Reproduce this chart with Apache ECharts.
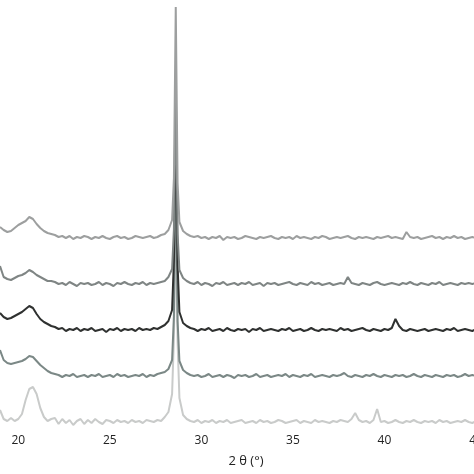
<!DOCTYPE html>
<html><head><meta charset="utf-8">
<script src="https://cdn.jsdelivr.net/npm/echarts@6/dist/echarts.min.js"></script>
<style>html,body{margin:0;padding:0;background:#fff}#c{width:474px;height:474px}</style>
</head><body><div id="c"></div>
<script>
// 2θ positions (degrees)
var twoTheta = [19.0,19.2,19.4,19.6,19.8,20.0,20.2,20.4,20.6,20.8,21.0,21.2,21.4,21.6,21.8,
22.0,22.2,22.4,22.6,22.8,23.0,23.2,23.4,23.6,23.8,24.0,24.2,24.4,24.6,24.8,25.0,25.2,25.4,25.6,25.8,26.0,26.2,26.4,26.6,26.8,27.0,27.2,27.4,27.6,27.8,28.0,28.2,28.4,
28.5,28.6,28.7,
28.8,29.0,29.2,29.4,29.6,29.8,30.0,30.2,30.4,30.6,30.8,31.0,31.2,31.4,31.6,31.8,32.0,32.2,32.4,32.6,32.8,33.0,33.2,33.4,33.6,33.8,34.0,34.2,34.4,34.6,
34.8,35.0,35.2,35.4,35.6,35.8,36.0,36.2,36.4,36.6,36.8,37.0,37.2,37.4,37.6,37.8,38.0,38.2,38.4,38.6,38.8,39.0,39.2,39.4,39.6,39.8,40.0,40.2,40.4,40.6,
40.8,41.0,41.2,41.4,41.6,41.8,42.0,42.2,42.4,42.6,42.8,43.0,43.2,43.4,43.6,43.8,44.0,44.2,44.4,44.6,44.8,45.0];

// intensities (a.u.), top pattern to bottom pattern
var pattern1 = [11,8,6,7,10,13,15,17,21,19,14,10,7,5,4,
3,1,2,0,2,-1,1,0,2,1, -1,1,0,2,0,-1,1,2,0,1, -1,0,2,1,0,1,2,0,1,3, 4,8,18,
60,231,55,
16,7,4,2,1,2,0,1,-1,1, 0,2,-2,1,0,1,-1,0,2,1, 0,-1,1,0,1,2,0,-1,1,0, 1,-1,2,0,1,0,-1,1,0,2,
1,-1,0,1,0,1,2,0,-1,1, 0,1,0,-1,1,0,1,2,0,1, 0,-1,6,1,0,1,-1,0,1,2, 0,1,-1,1,0,2,0,1,-1,0, 1,0];
var pattern2 = [18,7,5,4,6,8,9,11,14,12,9,7,5,3,3,
2,0,1,-1,2,0,-2,1,0,1, -1,0,2,-1,1,0,-2,1,0,2, 0,-1,1,0,2,-1,1,0,1,2, 3,7,15,
55,200,50,
14,6,3,1,0,2,-1,1,0,-2, 1,0,2,-1,0,1,-1,1,0,2, -1,0,1,-2,1,0,1,-1,0,1, 2,0,-1,1,0,-1,2,0,1,-1,
0,1,-1,0,1,0,7,1,0,-1, 1,0,-1,1,2,0,-1,0,1,0, -1,1,0,2,0,-1,1,0,-1,1, 0,2,-1,0,1,0,-1,1,0,1, 0,1];
var pattern3 = [17,13,11,12,14,16,18,21,24,22,16,11,8,6,4,
3,1,2,-1,1,0,2,-1,1,0, 2,-1,0,1,-2,1,0,2,-1,1, 0,1,-1,2,0,1,0,2,1,3, 5,9,20,
70,220,65,
18,7,4,2,1,-1,1,0,2,-1, 0,1,-1,2,0,-1,1,0,1,-2, 1,0,2,-1,0,1,0,-1,1,0, 2,-1,0,1,-1,0,2,0,-1,1,
0,1,0,-1,2,0,1,-1,0,1, 2,0,-1,1,0,-1,1,0,2,11, 4,0,-1,1,0,-1,0,1,-1,0, 1,0,-1,1,0,2,-1,0,1,0, -1,1];
var pattern4 = [26,16,13,12,13,14,15,17,20,19,15,11,8,5,3,
2,1,-1,1,0,2,-1,0,1,-1, 1,0,2,-1,0,1,-1,2,0,1, -1,0,1,0,2,-1,1,0,2,3, 4,7,16,
60,230,55,
15,6,3,1,0,1,-1,0,2,-1, 0,1,-1,1,0,-2,1,0,1,-1, 0,2,-1,0,1,-1,0,1,0,2, -1,1,0,-1,1,0,2,-1,0,1,
0,-1,1,0,1,3,0,-1,1,0, -1,1,0,2,0,-1,1,0,-1,1, 0,1,-1,0,2,0,-1,1,0,-1, 1,0,-1,1,0,1,-1,0,2,0, 1,0];
var pattern5 = [12,3,1,4,1,3,8,22,33,35,28,14,5,1,3,
4,-2,3,-1,2,-3,1,3,-2,2, -1,3,0,-2,2,1,-1,2,0,1, -1,2,0,1,-1,2,1,0,2,1, 5,10,28,
85,215,80,
24,7,3,1,0,2,-1,1,0,2, -1,1,0,2,-1,0,1,2,-1,0, 1,-1,2,0,1,-1,0,2,1,-1, 0,1,2,-1,1,0,-1,2,0,1,
0,-1,1,0,2,1,0,3,9,2, 0,1,-1,2,13,0,1,-1,0,2, 0,-1,1,0,2,0,-1,1,0,1, -1,2,0,1,-1,0,1,0,2,0, -1,1];

var patterns = [pattern1, pattern2, pattern3, pattern4, pattern5];
var stackOffsets = [192, 146, 100, 54, 8];
var tickLabels = [20, 25, 30, 35, 40, 45];
var colors = ['#9d9f9f', '#7f8584', '#2f3130', '#7b8886', '#c9cbca'];

var series = [];
for (var s = patterns.length - 1; s >= 0; s--) {
  var d = [];
  for (var i = 0; i < twoTheta.length && i < patterns[s].length; i++) {
    d.push([twoTheta[i], patterns[s][i] + stackOffsets[s]]);
  }
  series.push({
    type: 'line', data: d, showSymbol: false, symbol: 'none',
    lineStyle: { color: colors[s], width: 2 }, z: 10 - s
  });
}

var chart = echarts.init(document.getElementById('c'), null, { renderer: 'canvas' });
chart.setOption({
  animation: false,
  backgroundColor: '#ffffff',
  grid: { left: 0, right: -2, top: 0, bottom: 44, containLabel: false, outerBoundsMode: 'none' },
  xAxis: {
    type: 'value', min: 19, max: 45,
    name: '2 θ (°)', nameLocation: 'middle', nameGap: 25,
    nameTextStyle: { color: '#222', fontSize: 13, fontFamily: 'Open Sans', padding: [0, 0, 0, 16] },
    axisLine: { show: false }, axisTick: { show: false }, splitLine: { show: false },
    axisLabel: { customValues: tickLabels, color: '#222', fontSize: 12, fontFamily: 'Open Sans', margin: 5 }
  },
  yAxis: { type: 'value', min: 0, max: 430, show: false, splitLine: { show: false } },
  series: series
});
</script></body></html>
